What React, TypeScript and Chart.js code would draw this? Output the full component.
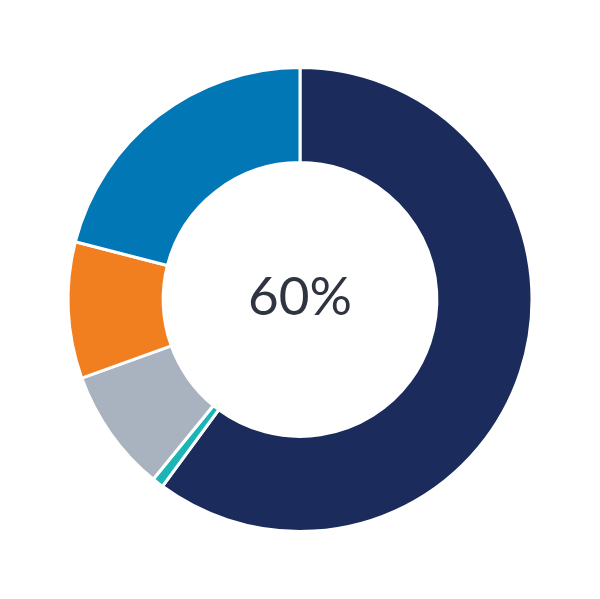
import React, { useEffect, useRef } from "react";
import { Chart, registerables } from "chart.js";

Chart.register(...registerables);

const categories = ["Navy", "Teal", "Gray", "Orange", "Blue"];
const values = [60.1, 0.8, 8.6, 9.5, 21.0];
const colors = ["#1b2b5b", "#1cb5b6", "#a9b3bf", "#f17f20", "#0277b5"];
const centerLabel = "60%";

export default function App() {
  const ref = useRef<HTMLCanvasElement | null>(null);
  useEffect(() => {
    if (!ref.current) return;
    const chart = new Chart(ref.current, {
      type: "doughnut",
      data: {
        labels: categories,
        datasets: [
          {
            data: values,
            backgroundColor: colors,
            borderColor: "#ffffff",
            borderWidth: 3,
            hoverOffset: 0,
          },
        ],
      },
      options: {
        animation: false,
        responsive: false,
        cutout: "59%",
        layout: { padding: { top: 66, bottom: 66, left: 66, right: 66 } },
        plugins: { legend: { display: false }, tooltip: { enabled: false } },
      },
    });
    return () => chart.destroy();
  }, []);
  return (
    <div style={{ position: "fixed", left: 0, top: 0, width: 600, height: 599, background: "#fff" }}>
      <canvas ref={ref} width={600} height={599} style={{ width: 600, height: 599 }} />
      <div
        style={{
          position: "absolute",
          left: 0,
          width: 600,
          top: 263,
          textAlign: "center",
          fontFamily: "Lato, sans-serif",
          fontSize: 53,
          lineHeight: "64px",
          color: "#2f3441",
          fontWeight: 400,
        }}
      >
        {centerLabel}
      </div>
    </div>
  );
}
